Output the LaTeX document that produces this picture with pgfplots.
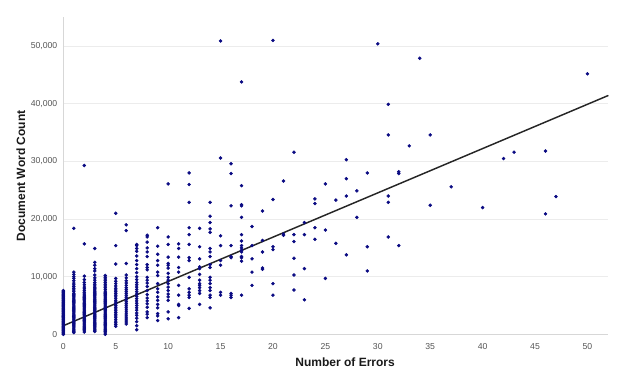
\documentclass[border=0pt]{standalone}
\usepackage{pgfplots}
\pgfplotsset{compat=1.18}
\usepackage{fontspec}
\setmainfont{Liberation Sans}
\definecolor{pt}{RGB}{10,10,130}
\definecolor{gridc}{RGB}{236,236,236}
\definecolor{axc}{RGB}{215,215,215}
\definecolor{tickc}{RGB}{85,85,85}
\begin{document}
\begin{tikzpicture}
\begin{axis}[
  at={(0,0)}, anchor=south west,
  scale only axis,
  width=408.75pt, height=237.75pt,
  xmin=0, xmax=52, ymin=0, ymax=55000,
  xtick={0,5,...,50},
  ytick={0,10000,20000,30000,40000,50000},
  scaled y ticks=false,
  /pgf/number format/assume math mode=true,
  /pgf/number format/1000 sep={,},
  ticklabel style={font=\fontsize{6.5}{8}\selectfont, color=tickc},
  major tick length=0pt,
  xtick style={draw=none}, ytick style={draw=none},
  axis x line*=bottom, axis y line*=left,
  axis line style={draw=axc, line width=0.6pt, -},
  ymajorgrids, grid style={draw=gridc, line width=0.6pt},
  xticklabel style={yshift=-3pt},
  yticklabel style={xshift=-1pt},
  xlabel={\textbf{Number of Errors}},
  ylabel={\textbf{Document Word Count}},
  label style={font=\fontsize{9}{11}\selectfont, color=black!90},
  x label style={at={(axis description cs:0.517,0)}, yshift=-21pt, anchor=center},
  y label style={at={(axis description cs:-0.078,0.5)}, anchor=center},
  clip=false,
]
\addplot[only marks, mark=*, mark size=1.1pt, color=pt, mark options={draw=pt, fill=pt}] coordinates {
(0,0) (0,100) (0,250) (0,400) (0,550) (0,700) (0,850) (0,1000) (0,1150) (0,1300) (0,1450) (0,1600) (0,1750) (0,1900) (0,2050) (0,2200) (0,2350) (0,2500) (0,2650) (0,2800) (0,2950) (0,3100) (0,3250) (0,3400) (0,3550) (0,3700) (0,3850) (0,4000) (0,4150) (0,4300) (0,4450) (0,4600) (0,4750) (0,4900) (0,5050) (0,5200) (0,5350) (0,5500) (0,5650) (0,5800) (0,5950) (0,6100) (0,6250) (0,6400) (0,6550) (0,6700) (0,6850) (0,7000) (0,7150) (0,7300) (0,7450) (0,7600)
(1,300) (1,500) (1,700) (1,900) (1,1100) (1,1300) (1,1500) (1,1700) (1,1900) (1,2100) (1,2300) (1,2500) (1,2700) (1,2900) (1,3100) (1,3300) (1,3500) (1,3700) (1,3900) (1,4100) (1,4300) (1,4500) (1,4700) (1,4900) (1,5100) (1,5300) (1,5500) (1,5700) (1,5900) (1,6100) (1,6300) (1,6500) (1,6700) (1,6900) (1,7100) (1,7400) (1,7700) (1,8000) (1,8300) (1,8600) (1,8900) (1,9300) (1,9700) (1,10000) (1,10400) (1,10800) (1,18400)
(2,400) (2,600) (2,800) (2,1000) (2,1200) (2,1400) (2,1600) (2,1800) (2,2000) (2,2200) (2,2400) (2,2600) (2,2800) (2,3000) (2,3200) (2,3400) (2,3600) (2,3800) (2,4000) (2,4200) (2,4400) (2,4600) (2,4800) (2,5000) (2,5200) (2,5400) (2,5600) (2,5800) (2,6000) (2,6200) (2,6400) (2,6600) (2,6800) (2,7000) (2,7300) (2,7600) (2,7900) (2,8200) (2,8600) (2,9000) (2,9500) (2,10100) (2,15700) (2,29300)
(3,500) (3,700) (3,900) (3,1100) (3,1300) (3,1500) (3,1700) (3,1900) (3,2100) (3,2300) (3,2500) (3,2700) (3,2900) (3,3100) (3,3300) (3,3500) (3,3700) (3,3900) (3,4100) (3,4300) (3,4500) (3,4700) (3,4900) (3,5100) (3,5300) (3,5500) (3,5700) (3,5900) (3,6100) (3,6300) (3,6500) (3,6700) (3,6900) (3,7100) (3,7300) (3,7500) (3,7700) (3,7900) (3,8100) (3,8400) (3,8700) (3,9000) (3,9400) (3,9800) (3,10300) (3,11000) (3,11400) (3,12000) (3,12500) (3,14900)
(4,0) (4,250) (4,500) (4,700) (4,900) (4,1100) (4,1300) (4,1500) (4,1700) (4,1900) (4,2100) (4,2300) (4,2500) (4,2700) (4,2900) (4,3100) (4,3300) (4,3500) (4,3700) (4,3900) (4,4100) (4,4300) (4,4500) (4,4700) (4,4900) (4,5100) (4,5300) (4,5500) (4,5700) (4,5900) (4,6100) (4,6300) (4,6500) (4,6700) (4,6900) (4,7100) (4,7300) (4,7500) (4,7800) (4,8100) (4,8400) (4,8700) (4,9000) (4,9300) (4,9600) (4,9900) (4,10200)
(5,1400) (5,1700) (5,2000) (5,2300) (5,2600) (5,2900) (5,3200) (5,3500) (5,3800) (5,4100) (5,4400) (5,4700) (5,5000) (5,5300) (5,5600) (5,5900) (5,6200) (5,6500) (5,6800) (5,7100) (5,7400) (5,7700) (5,8000) (5,8400) (5,8800) (5,9200) (5,9700) (5,12200) (5,15400) (5,21000)
(6,1800) (6,2150) (6,2500) (6,2850) (6,3200) (6,3550) (6,3900) (6,4250) (6,4600) (6,4950) (6,5300) (6,5650) (6,6000) (6,6350) (6,6700) (6,7050) (6,7400) (6,7750) (6,8100) (6,8500) (6,8900) (6,9300) (6,9800) (6,10300) (6,12300) (6,18000) (6,19000)
(7,800) (7,1500) (7,2200) (7,2800) (7,3300) (7,3700) (7,4200) (7,4600) (7,5000) (7,5400) (7,5800) (7,6200) (7,6600) (7,7000) (7,7400) (7,7800) (7,8200) (7,8600) (7,9000) (7,9500) (7,10000) (7,10700) (7,11400) (7,12100) (7,12800) (7,13600) (7,14400) (7,14900) (7,15400) (7,15600)
(8,2900) (8,3500) (8,3900) (8,4700) (8,5300) (8,5800) (8,6300) (8,6900) (8,7600) (8,8300) (8,8900) (8,9400) (8,9900) (8,11200) (8,11600) (8,12100) (8,13500) (8,14300) (8,15000) (8,16000) (8,16900) (8,17200)
(9,2400) (9,3200) (9,3600) (9,4600) (9,5200) (9,5900) (9,6500) (9,7300) (9,7900) (9,8800) (9,10200) (9,10800) (9,12000) (9,12800) (9,13900) (9,15300) (9,18500)
(10,2700) (10,3900) (10,5900) (10,6500) (10,7000) (10,7600) (10,8200) (10,8800) (10,9400) (10,9900) (10,10600) (10,11500) (10,12000) (10,12300) (10,13400) (10,15600) (10,16900) (10,26100)
(11,2900) (11,5000) (11,5200) (11,6800) (11,8500) (11,10800) (11,11600) (11,13400) (11,14900) (11,15700)
(12,4500) (12,6400) (12,6800) (12,7300) (12,7900) (12,9900) (12,12800) (12,13300) (12,15600) (12,17300) (12,18500) (12,22900) (12,26000) (12,28000)
(13,5200) (13,7100) (13,7600) (13,8100) (13,8500) (13,8800) (13,9400) (13,10400) (13,11400) (13,11700) (13,13100) (13,15200) (13,18400)
(14,4600) (14,6400) (14,6800) (14,7600) (14,8100) (14,8800) (14,9400) (14,9900) (14,11600) (14,12100) (14,13500) (14,14300) (14,14900) (14,17700) (14,18300) (14,19400) (14,20500) (14,22900)
(15,6800) (15,7300) (15,12000) (15,12800) (15,15400) (15,17100) (15,30600) (15,50900)
(16,6400) (16,6800) (16,7100) (16,13300) (16,13500) (16,15400) (16,22300) (16,27900) (16,29600)
(17,6800) (17,12700) (17,13300) (17,13500) (17,14300) (17,14600) (17,15000) (17,15400) (17,16200) (17,17300) (17,20300) (17,22300) (17,22500) (17,25800) (17,43800)
(18,8500) (18,10800) (18,13100) (18,15400) (18,18700)
(19,11300) (19,11500) (19,14300) (19,16300) (19,21400)
(20,6800) (20,8800) (20,14700) (20,15200) (20,23400) (20,51000)
(21,17200) (21,17400) (21,26600)
(22,7700) (22,10300) (22,13200) (22,16100) (22,17300) (22,31600)
(23,6000) (23,11400) (23,17300) (23,19400)
(24,16500) (24,18500) (24,22700) (24,23500)
(25,9700) (25,18100) (25,26100)
(26,15800) (26,23300)
(27,13800) (27,24000) (27,27000) (27,30300)
(28,20300) (28,24900)
(29,11000) (29,15200) (29,28000)
(30,50400)
(31,16900) (31,22900) (31,24000) (31,34600) (31,39900)
(32,15400) (32,27900) (32,28200)
(33,32700)
(34,47900)
(35,22400) (35,34600)
(37,25600)
(40,22000)
(42,30500)
(43,31600)
(46,20900) (46,31800)
(47,23900)
(50,45200)
};
\addplot[color=black!85, line width=1.1pt, no marks] coordinates {(0,1500) (52,41450)};
\end{axis}
\pgfresetboundingbox
\path (-47.5pt,-37.5pt) rectangle (421.2pt,250.75pt);
\end{tikzpicture}
\end{document}
